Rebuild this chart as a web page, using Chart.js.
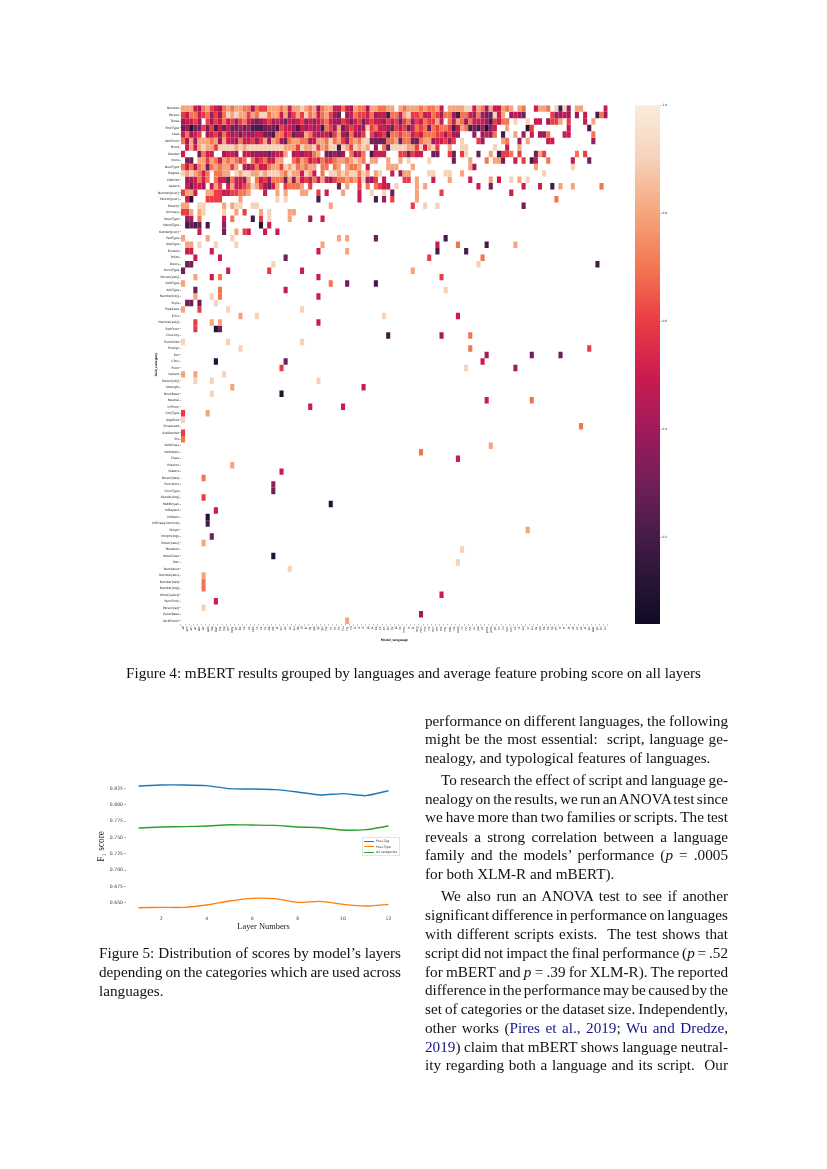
<!DOCTYPE html>
<html>
<head>
<meta charset="utf-8">
<title>Figures 4 and 5</title>
<script src="https://cdn.jsdelivr.net/npm/chart.js@4/dist/chart.umd.min.js"></script>
<style>
  html, body { margin: 0; padding: 0; background: #fff; }
  #page { position: relative; width: 827px; height: 1169px; overflow: hidden; font-family: "Liberation Serif", serif; color: #111; }
  canvas { position: absolute; filter: blur(0.4px); }
  #heatChart { filter: blur(0.6px); }
  .line { position: absolute; font-size: 15.2px; line-height: 18px; white-space: nowrap; filter: blur(0.25px); }
  .link { color: #14148c; }
  #legend { position: absolute; left: 362px; top: 837px; width: 38px; height: 19px; background: #fff; border: 0.5px solid #e4e4e4; box-sizing: border-box; font: 3.1px "DejaVu Sans", sans-serif; color: #333; filter: blur(0.3px); }
  #legend div { position: absolute; left: 1px; white-space: nowrap; line-height: 5px; }
  #legend i { display: inline-block; width: 9.5px; height: 1.2px; vertical-align: middle; margin-right: 2.5px; }
</style>
</head>
<body>
<div id="page">
  <canvas id="heatChart" width="480" height="547" style="left:150px;top:95px"></canvas>
  <canvas id="colorBar" width="50" height="540" style="left:630px;top:95px"></canvas>
  <canvas id="layerChart" width="327" height="162" style="left:85px;top:770px"></canvas>
  <div id="legend"></div>
</div>

<script>
// --- heatmap data ---
const taskLabels = ["Number","Person","Tense","PronType","Case","VerbForm","Mood","Gender","Voice","NumType",
  "Degree","Definite","Aspect","Number[psor]","Person[psor]","Polarity","Animacy","NounType","NameType","Gender[psor]",
  "PartType","AdpType","Evident","Polite","Deixis","PunctType","Person[subj]","VerbType","AdvType","Number[obj]",
  "Style","PrepCase","Echo","Number[subj]","PartForm","Clusivity","PunctSide","Foreign","Bor","Clitic",
  "Form","Variant","Person[obj]","Strength","NounBase","Neutral","InfForm","ConjType","AdpGlue","Possessed",
  "SubGender","Prs","VerbClass","VerbStem","Class","Position","Dialect","Person[dat]","PunctSort","ConvType",
  "Gender[erg]","HebBinyan","InfAspect","InfStem","InflClass[nominal]","Morph","Morphology","Person[abs]","Mutation","NounClass",
  "Nec","NumValue","Number[abs]","Number[dat]","Number[erg]","Other[subst]","NumForm","Person[lat]","PunctBase","VerbForm2"];

const languageLabels = ["af","am","an","ar","ast","az","azb","ba","bar","be",
  "bg","bn","bpy","br","bs","ca","ce","ceb","cs","cv",
  "cy","da","de","el","en","es","et","eu","fa","fi",
  "fr","fy","ga","gl","gu","he","hi","hr","ht","hu",
  "hy","id","io","is","it","ja","jv","ka","kk","kn",
  "ko","ky","la","lb","lmo","lt","lv","mg","min","mk",
  "ml","mn","mr","ms","my","nds","ne","new","nl","nn",
  "no","oc","pa","pl","pms","pnb","pt","ro","ru","sco",
  "scn","sk","sl","sq","sr","su","sv","sw","ta","te",
  "tg","th","tl","tr","tt","uk","ur","uz","vi","vo",
  "war","yo","zh","zu"];

// one entry per row: [first column, [scores in tenths, 0 = no result]]
const heatRows = [
  [[0,[8,8,8,5,4,7,8,6,5,4,7,8,7,8,8,7,7,4,7,6,6,8,8,8,7,8,5,8,8,9,8,7,8,4,7,8,8,5,5,7,5,4,8,7,7,4,8,8]],[48,[7,7,8,8,0,8,7,8,8,8,7,8,7,7,8,5,0,8,8,8,8,9,9,5,8,7,4,8,5,5,8,7,8,0,8,7,0,0,5,8,8,7,0,9,2,9,4,0,8,8]],[103,[5]]],
  [[0,[6,5,7,7,5,6,7,4,6,4,7,9,8,9,8,8,6,8,7,9,9,7,8,8,5,8,4,6,8,6,9,7,8,5,7,8,6,4,3,0,4,5,7,6,6,5,7,4]],[48,[5,5,2,7,7,5,8,9,6,6,7,5,5,7,6,4,7,7,4,2,7,7,5,4,7,4,3,3,9,5,8,0,4,5,4,3]],[90,[6,4,4,5,4,0,4,0,5]],[101,[2,7,4]]],
  [[0,[4,5,5,6,4,0,6,4,6,5,7,5,6,4,6,7,5,4,3,4,5,6,4,5,4,3,5,4,5,6,4,5,4,5,6,7,5,4,4,6,5,3,5,6,3,5,6,5]],[48,[5,4,6,5,6,3,6,7,4,6,5,7,6,6,8,5,0,7,5,8,7,4,7,5,5,5,4,2,6,5,7,7,0,9,0,0,9,0,5,5,0,4,6,6,8,0,6]],[98,[5,0,8]]],
  [[0,[3,4,1,3,3,6,3,6,2,5,3,5,3,3,4,3,4,2,2,2,3,3,3,2,6,5,5,4,2,5,4,5,4,5,2,7,6,4,8,3,5,6,5,4,4,9,6,7]],[48,[5,5,4,3,6,5,6,3,5,7,6,7,3,7,6,7,7,6,2,5,8,7,2,3,2,4,1,4,5,0,0,8]],[84,[1,6]],[94,[5]],[99,[2]]],
  [[0,[5,7,4,5,6,0,4,5,6,4,7,5,4,5,3,5,4,4,5,5,3,3,2,7,7,5,6,3,4,4,8,7,5,4,5,5,3,6,8,4,3,7,4,4,6,0,6,4]],[48,[5,6,2,7,7,6,7,7,5,6,5,7,7,7,6,6,4,6,4,4]],[71,[4,0,4,5,4,7,0,2]],[81,[8,0,4,0,5,0,4,4,7]],[93,[5,5]],[100,[7]]],
  [[0,[7,4,8,4,8,8,8,7,8,4,8,5,5,4,7,5,5,6,4,6,8,4,8,7,4,3,7,8,8,7,7,4,5,8,8,7,9,7,8,6,4,7,8,7,9,9,3,3]],[48,[3,3,7,7,8,3,7,7,3,3,7,8,8,4,5,5,6,4,6,0,9]],[72,[6,4]],[78,[8,7,0,0,4,0,8]],[89,[5,5]],[100,[4]]],
  [[1,[5,8,5,8,9,8,8,6,9,9,9,9,8,9,8,9,9,9,9,9,9,9,9,9,8,8,8,6,9,8,8,9,6,8,7,9,9,2,9,8,6,9,8,9,8,0,4]],[49,[7,3,9,9,9,9,8,8,6,9,5,8,9,6]],[65,[8]],[68,[9,9]],[76,[9]],[79,[5]],[82,[8]]],
  [[0,[5,0,0,0,3,7,5,5,0,0,4,5,5,4,0,5,5,4,4,4,4,3,4,5,5,8,0,4,5,4,5,5,7,8,0,3,3,4,3,4,0,7,4,5,7,0,2,5]],[48,[5,5,0,0,0,6,6,3,6,5,5]],[61,[3,3]],[65,[6,3,0,6,9]],[72,[3]],[75,[8,0,2,6,6,7,0,6]],[86,[3,8,6]],[96,[7,0,6]]],
  [[1,[3,3,0,8,8,6,8,7,5,8,7,8,7,6,7,0,7,5,6,7,5,5,8,8,0,0,7,6,8,7,5,6,5,7,6,6,7,8,8,7,8,9,8,7,0,8,8]],[50,[8]],[53,[8,0,9]],[60,[9]],[66,[3]],[70,[8]],[74,[7,0,8,8,3]],[81,[5,0,6,0,2,5,0,0,7]],[95,[5]],[99,[3]]],
  [[0,[7,5,7,4,7,8,3,7,8,7,8,8,6,8,0,5,4,5,7,5,5,7,8,8,6,9,8,9,7,8,7,8,8,0,7,7,0,7,8,0,8,7,7,8,0,5]],[50,[8,8,8]],[56,[8]],[70,[8,4]],[86,[8]],[95,[9]]],
  [[0,[9,8,9,8,7,5,7,0,7,7,8,8,0,9,8,9,9,8,8,9,8,9,9,9,8,7,9,8,8,5,9,8,5,0,7,0,9,9,8,9,8,9,9,7,9,8,0,8,9]],[51,[5,0,4,8,8]],[60,[9,9]],[64,[9,9]],[68,[8]],[88,[9]]],
  [[1,[4,4,5,7,5,7,0,7,5,5,3,7,5,5,4,8,0,7,5,6,4,7,7,7,3,8,4,8,5,6,5,7,5,8,5,4,6,7,7,8,7,8,6,9,4,4,6,0,5]],[54,[6,6]],[57,[8]],[61,[5]],[65,[8]],[70,[5]],[75,[8,0,5]],[80,[9,0,8,0,9]]],
  [[1,[5,3,5,5,4,0,5,8,6,0,5,8,5,5,6,7,9,8,6,4,3,5,8,0,6,7,7,7,8,0,6]],[38,[3,0,8]],[43,[6,0,7,0,7,6,5,5,0,9]],[57,[8,0,8]],[72,[5]],[75,[3]],[83,[5]],[87,[5]],[90,[2,0,8]],[95,[8]],[102,[7]]],
  [[0,[6,8,8,5,0,0,8,8,6,6,5,5,6,6,7,7,8]],[20,[5]],[23,[8,0,8]],[29,[8,8]],[33,[6,0,5]],[39,[8]],[43,[5]],[46,[9]],[49,[9,0,3]],[57,[8]],[63,[6]],[80,[5]]],
  [[1,[5,1,0,0,0,6,6,6,6]],[14,[8]],[23,[9,0,9]],[33,[2]],[43,[5]],[47,[2,0,4]],[51,[6]],[57,[8]],[91,[7]]],
  [[0,[8,8,0,0,9,9,0,0,0,0,8,0,8,9,9,0,0,9,9]],[36,[8]],[56,[6,0,0,9,0,0,9]],[83,[3]]],
  [[0,[6,6,8,0,8,9]],[10,[9]],[13,[8,0,6]],[19,[8,0,9]],[26,[8,8]]],
  [[1,[4,4,0,7]],[10,[5]],[12,[7]],[17,[2]],[19,[6]],[21,[9]],[26,[8]],[31,[4]],[34,[5]]],
  [[1,[2,3,2,3,0,2]],[10,[4]],[19,[1]],[21,[5]]],
  [[4,[5]],[10,[3]],[13,[8]],[15,[6,5]],[20,[5]],[23,[5]]],
  [[0,[8]],[6,[8]],[12,[9]],[38,[8]],[40,[8]],[47,[3]],[64,[2]]],
  [[1,[8,8]],[4,[9]],[8,[9]],[13,[9]],[34,[8]],[62,[5]],[67,[7]],[74,[2]],[81,[8]]],
  [[1,[5,5]],[7,[5]],[33,[5]],[40,[8]],[62,[2]],[69,[2]]],
  [[3,[5]],[9,[5]],[25,[3]],[60,[6]],[73,[7]]],
  [[1,[3,3]],[22,[9]],[72,[9]],[101,[2]]],
  [[0,[3]],[11,[5]],[21,[6]],[29,[5]],[56,[8]]],
  [[3,[8]],[7,[5]],[9,[7]],[33,[5]],[63,[6]]],
  [[0,[8]],[36,[7]],[40,[3]],[47,[2]]],
  [[3,[3]],[9,[7]],[25,[5]],[64,[9]]],
  [[3,[8]],[7,[9]],[9,[7]],[33,[5]]],
  [[1,[3,3]],[4,[3]],[8,[9]]],
  [[0,[8]],[4,[6]],[11,[9]],[29,[9]]],
  [[14,[8]],[18,[9]],[49,[9]],[67,[5]]],
  [[3,[6]],[7,[8]],[9,[8]],[33,[5]]],
  [[3,[6]],[8,[1,3]]],
  [[50,[2]],[63,[4]],[70,[7]]],
  [[0,[9]],[11,[9]],[29,[9]]],
  [[14,[9]],[70,[7]],[99,[6]]],
  [[74,[4]],[85,[3]],[92,[3]]],
  [[8,[1]],[25,[3]],[73,[5]]],
  [[24,[6]],[69,[9]],[81,[4]]],
  [[0,[8]],[3,[8]],[10,[9]]],
  [[3,[9]],[7,[9]],[33,[9]]],
  [[12,[8]],[44,[5]]],
  [[7,[9]],[24,[1]]],
  [[74,[5]],[85,[7]]],
  [[31,[5]],[39,[5]]],
  [[0,[6]],[6,[8]]],
  [[0,[9]]],
  [[97,[7]]],
  [[0,[6]]],
  [[0,[7]]],
  [[75,[8]]],
  [[58,[7]]],
  [[67,[5]]],
  [[12,[8]]],
  [[24,[5]]],
  [[5,[7]]],
  [[22,[4]]],
  [[22,[3]]],
  [[5,[6]]],
  [[36,[1]]],
  [[8,[5]]],
  [[6,[1]]],
  [[6,[2]]],
  [[84,[8]]],
  [[7,[3]]],
  [[5,[8]]],
  [[68,[9]]],
  [[22,[1]]],
  [[67,[9]]],
  [[26,[9]]],
  [[5,[8]]],
  [[5,[7]]],
  [[5,[7]]],
  [[63,[5]]],
  [[8,[5]]],
  [[5,[9]]],
  [[58,[4]]],
  [[40,[8]]]
];
const colorTicks = [0.2, 0.4, 0.6, 0.8, 1.0];

// --- layer chart data ---
const layers = [1,2,3,4,5,6,7,8,9,10,11,12];
const posTag = [0.8286,0.8301,0.8301,0.8291,0.8245,0.8240,0.8230,0.8194,0.8148,0.8169,0.8138,0.8214];
const posType = [0.6428,0.6433,0.6433,0.6469,0.6530,0.6571,0.6566,0.6510,0.6525,0.6479,0.6453,0.6479];
const allCategories = [0.7644,0.7660,0.7665,0.7675,0.7695,0.7690,0.7685,0.7660,0.7649,0.7614,0.7619,0.7675];
const layerTicks = [2,4,6,8,10,12];
const scoreTicks = [0.65,0.675,0.7,0.725,0.75,0.775,0.8,0.825];
const seriesNames = ["Pos+Tag","Pos+Type","All categories"];
const seriesColors = ["#1f77b4","#ff7f0e","#2ca02c"];

// --- page text: [left, right edge or null, baseline, html] ---
const pageLines = [
  [425,728,725.7,"performance on different languages, the following"],
  [425,728,744.3,"might be the most essential:&nbsp; script, language ge-"],
  [425,null,763,"nealogy, and typological features of languages."],
  [441,728,785.3,"To research the effect of script and language ge-"],
  [425,728,804,"nealogy on the results, we run an ANOVA test since"],
  [425,728,822.3,"we have more than two families or scripts. The test"],
  [425,728,841.7,"reveals a strong correlation between a language"],
  [425,728,860,"family and the models’ performance (<i>p</i> = .0005"],
  [425,null,879,"for both XLM-R and mBERT)."],
  [441,728,900.7,"We also run an ANOVA test to see if another"],
  [425,728,920,"significant difference in performance on languages"],
  [425,728,939,"with different scripts exists.&nbsp; The test shows that"],
  [425,728,957.7,"script did not impact the final performance (<i>p</i> = .52"],
  [425,728,976.7,"for mBERT and <i>p</i> = .39 for XLM-R). The reported"],
  [425,728,995.3,"difference in the performance may be caused by the"],
  [425,728,1014,"set of categories or the dataset size. Independently,"],
  [425,728,1032.7,"other works (<span class='link'>Pires et al., 2019</span>; <span class='link'>Wu and Dredze</span>,"],
  [425,728,1051.7,"<span class='link'>2019</span>) claim that mBERT shows language neutral-"],
  [425,728,1070.3,"ity regarding both a language and its script.&nbsp; Our"],
  [126,701,678,"Figure 4: mBERT results grouped by languages and average feature probing score on all layers"],
  [99,401,957.7,"Figure 5: Distribution of scores by model’s layers"],
  [99,401,976.7,"depending on the categories which are used across"],
  [99,null,995.7,"languages."]
];

const page = document.getElementById("page");
pageLines.forEach(([left, right, baseline, html]) => {
  const el = document.createElement("div");
  el.className = "line";
  el.style.left = left + "px";
  el.style.top = (baseline - 14) + "px";
  el.innerHTML = html;
  page.appendChild(el);
  // stretch or squeeze the word gaps so the line ends where the column ends
  if (right) {
    const gaps = el.textContent.split(/\s/).length - 1;
    el.style.wordSpacing = (right - left - el.getBoundingClientRect().width) / gaps + "px";
  }
});

// rocket colormap
const rocket = [[0,3,5,26],[0.1,34,19,49],[0.2,69,28,71],[0.3,112,31,87],[0.4,161,26,91],[0.5,203,27,79],
  [0.6,233,60,68],[0.7,243,118,81],[0.8,246,164,124],[0.9,246,210,185],[1,250,235,221]];
function rocketColor(v) {
  for (let i = 1; i < rocket.length; i++) {
    if (v <= rocket[i][0]) {
      const a = rocket[i - 1], b = rocket[i];
      const t = (v - a[0]) / (b[0] - a[0]);
      return `rgb(${[1, 2, 3].map((k) => Math.round(a[k] + (b[k] - a[k]) * t)).join(",")})`;
    }
  }
  return "rgb(250,235,221)";
}

// --- FIGURE 4: heatmap, one floating bar dataset per row ---
const heatDatasets = heatRows.map((segments, row) => {
  const data = languageLabels.map(() => null);
  const colors = languageLabels.map(() => "rgba(0,0,0,0)");
  segments.forEach(([start, levels]) => {
    levels.forEach((level, i) => {
      if (level > 0) {
        data[start + i] = [row, row + 1];
        colors[start + i] = rocketColor(level / 10);
      }
    });
  });
  return { data, backgroundColor: colors, borderWidth: 0, barPercentage: 1, categoryPercentage: 1, grouped: false, inflateAmount: 0 };
});

const tinyFont = { family: "'DejaVu Sans', sans-serif", size: 3 };

new Chart(document.getElementById("heatChart"), {
  type: "bar",
  data: { labels: languageLabels, datasets: heatDatasets },
  options: {
    responsive: false,
    animation: false,
    layout: { autoPadding: false, padding: { top: 10.3, right: 22.3, left: 0, bottom: 0 } },
    plugins: { legend: { display: false }, tooltip: { enabled: false } },
    scales: {
      x: {
        grid: { drawOnChartArea: false, tickLength: 1.5, lineWidth: 0.4, color: "#555" },
        border: { display: false },
        ticks: { font: { ...tinyFont, size: 3.2 }, color: "#222", autoSkip: false, maxRotation: 90, minRotation: 90, padding: 1 },
        title: { display: true, text: "Model_language", font: { ...tinyFont, weight: "bold" }, color: "#222", padding: 0 },
        afterFit: (s) => { s.height = 18; }
      },
      y: {
        reverse: true,
        min: 0,
        max: taskLabels.length,
        grid: { drawOnChartArea: false, tickLength: 1.5, lineWidth: 0.4, color: "#555" },
        border: { display: false },
        afterBuildTicks: (s) => { s.ticks = taskLabels.map((_, i) => ({ value: i + 0.5 })); },
        ticks: { font: tinyFont, color: "#222", autoSkip: false, padding: 0.5, callback: (v) => taskLabels[v - 0.5] },
        title: { display: true, text: "Task_category", font: { ...tinyFont, weight: "bold" }, color: "#222", padding: { top: 4, bottom: 0 } },
        afterFit: (s) => { s.width = 31; }
      }
    }
  }
});

// colour bar, one tall bar with the colormap as a gradient
new Chart(document.getElementById("colorBar"), {
  type: "bar",
  data: {
    labels: ["score"],
    datasets: [{
      data: [[0.04, 1]],
      barPercentage: 1,
      categoryPercentage: 1,
      borderWidth: 0,
      backgroundColor: (c) => {
        const area = c.chart.chartArea;
        if (!area) return "#000";
        const y = c.chart.scales.y;
        const g = c.chart.ctx.createLinearGradient(0, area.bottom, 0, area.top);
        rocket.forEach((s) => {
          if (s[0] >= y.min) g.addColorStop((s[0] - y.min) / (y.max - y.min), rocketColor(s[0]));
        });
        g.addColorStop(0, rocketColor(y.min));
        return g;
      }
    }]
  },
  options: {
    responsive: false,
    animation: false,
    layout: { autoPadding: false, padding: { top: 10.3, bottom: 11, left: 5, right: 0 } },
    plugins: { legend: { display: false }, tooltip: { enabled: false } },
    scales: {
      x: { display: false },
      y: {
        position: "right",
        min: 0.04,
        max: 1,
        grid: { drawOnChartArea: false, tickLength: 1.5, lineWidth: 0.4, color: "#555" },
        border: { display: false },
        afterBuildTicks: (s) => { s.ticks = colorTicks.map((value) => ({ value })); },
        ticks: { font: tinyFont, color: "#222", padding: 1, callback: (v) => v.toFixed(1) },
        afterFit: (s) => { s.width = 20; }
      }
    }
  }
});

// --- FIGURE 5: scores by layer ---
function toPoints(values) {
  return values.map((y, i) => ({ x: layers[i], y }));
}
const tickFont = { family: "'DejaVu Sans', sans-serif", size: 4.6 };

new Chart(document.getElementById("layerChart"), {
  type: "line",
  data: {
    datasets: [posTag, posType, allCategories].map((values, i) => ({
      label: seriesNames[i],
      data: toPoints(values),
      borderColor: seriesColors[i],
      borderWidth: 1.4,
      pointRadius: 0,
      tension: 0.2
    }))
  },
  options: {
    responsive: false,
    animation: false,
    layout: { autoPadding: false, padding: { top: 8.9, right: 11, left: 0, bottom: 0 } },
    plugins: { legend: { display: false }, tooltip: { enabled: false } },
    scales: {
      x: {
        type: "linear",
        min: 0.45,
        max: 12.55,
        grid: { display: false, drawTicks: false },
        border: { display: false },
        afterBuildTicks: (s) => { s.ticks = layerTicks.map((value) => ({ value })); },
        ticks: { font: tickFont, color: "#444", padding: 2.5 },
        title: { display: true, text: "Layer Numbers", font: { family: "'Liberation Serif', serif", size: 8.4 }, color: "#222", padding: 0 },
        afterFit: (s) => { s.height = 18.2; }
      },
      y: {
        min: 0.6335,
        max: 0.8394,
        grid: { drawOnChartArea: false, tickLength: 2, lineWidth: 0.5, color: "#666" },
        border: { display: false },
        afterBuildTicks: (s) => { s.ticks = scoreTicks.map((value) => ({ value })); },
        ticks: { font: tickFont, color: "#444", padding: 1, callback: (v) => v.toFixed(3) },
        title: { display: true, text: "F₁ score", font: { family: "'Liberation Serif', serif", size: 9.4 }, color: "#222", padding: { top: 11, bottom: 0 } },
        afterFit: (s) => { s.width = 41; }
      }
    }
  }
});

// legend sits inside the plot
const legendBox = document.getElementById("legend");
seriesNames.forEach((name, i) => {
  const row = document.createElement("div");
  row.style.top = (1 + i * 5.7) + "px";
  row.innerHTML = `<i style="background:${seriesColors[i]}"></i>${name}`;
  legendBox.appendChild(row);
});
</script>
</body>
</html>
